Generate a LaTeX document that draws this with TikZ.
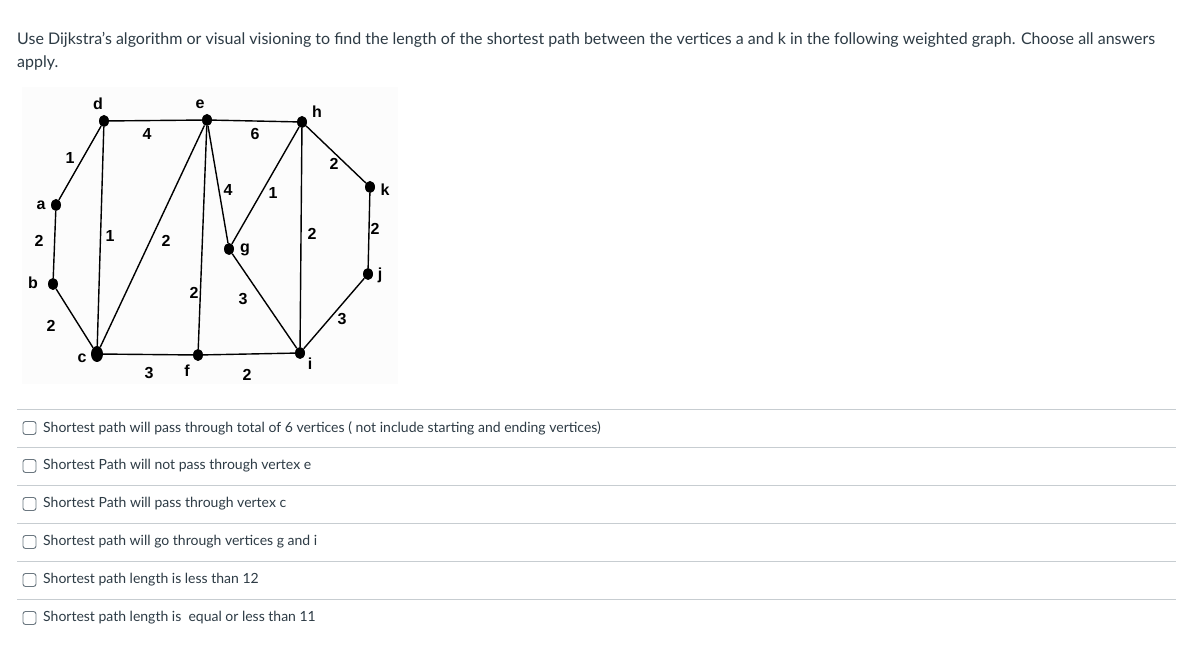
\documentclass[tikz,border=0pt]{standalone}
\usepackage{fontspec}
\setmainfont{Lato}
\newfontfamily\graphfont{Liberation Sans}
\usetikzlibrary{shapes.geometric}
\definecolor{canvastext}{HTML}{2D3B45}
\definecolor{rulegray}{HTML}{C7CDD1}
\definecolor{boxgray}{HTML}{6B7780}
\begin{document}
\begin{tikzpicture}[x=1pt,y=-1pt,
				vertex/.style={ellipse,fill=black,minimum width=10pt,minimum height=12pt,inner sep=0pt},
				vname/.style={font=\graphfont\bfseries\fontsize{16}{16}\selectfont,inner sep=0pt},
				weight/.style={font=\graphfont\bfseries\fontsize{16}{16}\selectfont,inner sep=0pt},
				edge/.style={line width=1.4pt},
				question/.style={anchor=base west,inner sep=0pt,text=canvastext,font=\fontsize{16}{19}\selectfont},
				answer/.style={anchor=west,inner sep=0pt,text=canvastext,font=\fontsize{14}{17}\selectfont},
				tickbox/.style={draw=boxgray,rounded corners=2.5pt,line width=0.9pt,minimum size=13pt,inner sep=0pt},
				rulerow/.style={draw=rulegray,line width=0.8pt}]
\useasboundingbox[fill=white] (0,0) rectangle (1184,652);
\fill[black!1] (22,87) rectangle (398,384);
\node[question] (q1) at (17,45) {Use Dijkstra’s algorithm or visual visioning to find the length of the shortest path between the vertices a and k in the following weighted graph. Choose all answers};
\node[question] (q2) at (17,68) {apply.};
\node[vertex] (a) at (56,205) {};
\node[vertex] (b) at (53,284) {};
\node[vertex,minimum width=12pt,minimum height=16pt] (c) at (97,354) {};
\node[vertex] (d) at (104,121) {};
\node[vertex] (e) at (207,120) {};
\node[vertex] (f) at (198,355) {};
\node[vertex] (g) at (229,249) {};
\node[vertex] (h) at (302,122) {};
\node[vertex] (i) at (300,353) {};
\node[vertex] (j) at (368,274) {};
\node[vertex] (k) at (370,187) {};
\node[vname] (la) at (41,205) {a};
\node[vname] (lb) at (33,283) {b};
\node[vname] (lc) at (82,358) {c};
\node[vname] (ld) at (98,104) {d};
\node[vname] (le) at (200,104) {e};
\node[vname] (lf) at (187,371) {f};
\node[vname] (lg) at (245,250) {g};
\node[vname] (lh) at (317,112) {h};
\node[vname] (li) at (310,364) {i};
\node[vname] (lj) at (380,275) {j};
\node[vname] (lk) at (385,190) {k};
\draw[edge] (a) -- (d);
\draw[edge] (a) -- (b);
\draw[edge] (b) -- (c);
\draw[edge] (d) -- (c);
\draw[edge] (d) -- (e);
\draw[edge] (c) -- (e);
\draw[edge] (c) -- (f);
\draw[edge] (e) -- (f);
\draw[edge] (e) -- (g);
\draw[edge] (e) -- (h);
\draw[edge] (g) -- (h);
\draw[edge] (g) -- (i);
\draw[edge] (h) -- (i);
\draw[edge] (f) -- (i);
\draw[edge] (h) -- (k);
\draw[edge] (k) -- (j);
\draw[edge] (i) -- (j);
\node[weight] (wad) at (70,158) {1};
\node[weight] (wab) at (39,241) {2};
\node[weight] (wbc) at (51,326) {2};
\node[weight] (wdc) at (110,236) {1};
\node[weight] (wde) at (147,134) {4};
\node[weight] (wce) at (166,241) {2};
\node[weight] (wcf) at (149,373) {3};
\node[weight] (wef) at (194,293) {2};
\node[weight] (weg) at (228,190) {4};
\node[weight] (weh) at (255,134) {6};
\node[weight] (wgh) at (273,193) {1};
\node[weight] (wgi) at (243,299) {3};
\node[weight] (whi) at (312,234) {2};
\node[weight] (wfi) at (247,375) {2};
\node[weight] (whk) at (334,164) {2};
\node[weight] (wkj) at (375,229) {2};
\node[weight] (wij) at (342,319) {3};
\foreach \y in {409,447,485,523,561,599}
	\draw[rulerow] (17,\y) -- (1176,\y);
\foreach \txt [count=\n] in {{Shortest path will pass through total of 6 vertices ( not include starting and ending vertices)},
		{Shortest Path will not pass through vertex e},
		{Shortest Path will pass through vertex c},
		{Shortest path will go through vertices g and i},
		{Shortest path length is less than 12},
		{Shortest path length is\ \ equal or less than 11}}
{
	\node[tickbox] (box\n) at (29.5,390+38*\n) {};
	\node[answer] (opt\n) at (43,390+38*\n) {\txt};
}
\end{tikzpicture}
\end{document}
